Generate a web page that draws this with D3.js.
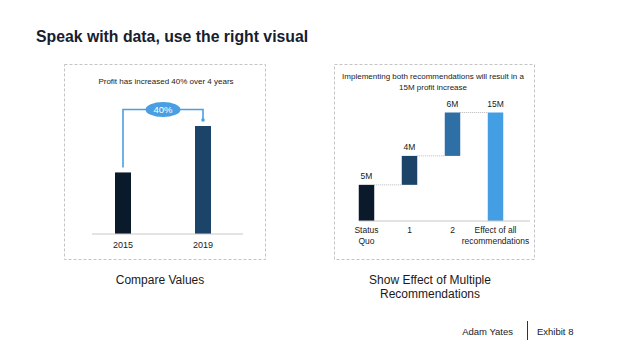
<!DOCTYPE html>
<html><head><meta charset="utf-8">
<script src="https://cdn.jsdelivr.net/npm/d3@7"></script>
<style>body{margin:0;background:#fff}svg{display:block;font-family:"Liberation Sans",Arial,sans-serif}</style>
</head><body>
<svg id="c" width="638" height="359"></svg>
<script>
// Left chart data
const yearCats = ["2015", "2019"];
const profitValues = [5.7, 10];
const growthLabel = "40%";
// Right chart (waterfall) data
const wfCats = [["Status", "Quo"], ["1"], ["2"], ["Effect of all", "recommendations"]];
const wfValues = [5, 4, 6, 15];
const wfLabels = ["5M", "4M", "6M", "15M"];
const wfIsTotal = [false, false, false, true];

const svg = d3.select("#c");
const ink = "#1a1a1a";

svg.append("text").attr("x", 36).attr("y", 42).attr("font-size", 15.8).attr("font-weight", "bold")
  .attr("fill", "#16202e").text("Speak with data, use the right visual");

// dashed boxes
[[64, 64, 201, 195], [334, 64, 200, 195]].forEach(([x, y, w, h]) => {
  svg.append("rect").attr("x", x + 0.5).attr("y", y + 0.5).attr("width", w).attr("height", h)
    .attr("fill", "none").attr("stroke", "#c4c4c4").attr("stroke-dasharray", "3,2");
});

// ---- Left chart
const xL = d3.scaleBand().domain(yearCats).range([83, 243]).paddingInner(0.8).paddingOuter(0.4);
const yL = d3.scaleLinear().domain([0, 10]).range([234, 126]);
const leftColors = ["#0b1a2a", "#1b4468"];
svg.append("text").attr("x", 166).attr("y", 84).attr("text-anchor", "middle").attr("font-size", 8)
  .attr("fill", ink).text("Profit has increased 40% over 4 years");
svg.selectAll(".lbar").data(profitValues).join("rect")
  .attr("x", (d, i) => xL(yearCats[i])).attr("width", xL.bandwidth())
  .attr("y", d => yL(d)).attr("height", d => yL(0) - yL(d)).attr("fill", (d, i) => leftColors[i]);
svg.append("line").attr("x1", 92).attr("x2", 243).attr("y1", 234).attr("y2", 234).attr("stroke", "#c8c8c8");
const axL = svg.append("g").attr("transform", "translate(0,234)")
  .call(d3.axisBottom(xL).tickSize(0).tickPadding(8));
axL.select(".domain").remove();
axL.selectAll("text").attr("font-size", 9).attr("fill", ink).attr("font-family", "Liberation Sans, Arial, sans-serif");

// connector
const c0 = xL(yearCats[0]) + xL.bandwidth() / 2, c1 = xL(yearCats[1]) + xL.bandwidth() / 2;
const topY = 109.5;
const blue = "#4a9fe2";
svg.append("path").attr("fill", "none").attr("stroke", blue).attr("stroke-width", 1.6)
  .attr("d", `M${c0},${yL(profitValues[0]) - 5}V${topY}H${c1}V${yL(profitValues[1]) - 6}`);
svg.append("circle").attr("cx", c1).attr("cy", yL(profitValues[1]) - 6).attr("r", 1.8).attr("fill", blue);
const mx = (c0 + c1) / 2;
svg.append("ellipse").attr("cx", mx).attr("cy", topY).attr("rx", 17.5).attr("ry", 7.5).attr("fill", blue);
svg.append("text").attr("x", mx).attr("y", topY + 3.5).attr("text-anchor", "middle").attr("font-size", 9.5)
  .attr("fill", "#fff").text(growthLabel);

// ---- Right chart (waterfall)
const keys = wfCats.map((d, i) => "c" + i);
const xR = d3.scaleBand().domain(keys).range([345, 517]).paddingInner(0.64).paddingOuter(0.32);
const yR = d3.scaleLinear().domain([0, 15]).range([221, 112.5]);
const rightColors = ["#0b1a2a", "#1b4468", "#2e6fa6", "#449ee3"];
let run = 0;
const wf = wfValues.map((v, i) => {
  let start, end;
  if (wfIsTotal[i]) { start = 0; end = v; } else { start = run; end = run + v; run = end; }
  return { key: keys[i], start, end, v, label: wfLabels[i] };
});
svg.append("text").attr("x", 433).attr("y", 79).attr("text-anchor", "middle").attr("font-size", 8)
  .attr("fill", ink).text("Implementing both recommendations will result in a");
svg.append("text").attr("x", 433).attr("y", 90).attr("text-anchor", "middle").attr("font-size", 8)
  .attr("fill", ink).text("15M profit increase");
// dotted connectors
wf.slice(0, -1).forEach((d, i) => {
  const n = wf[i + 1];
  svg.append("line").attr("x1", xR(d.key) + xR.bandwidth()).attr("x2", xR(n.key))
    .attr("y1", yR(d.end)).attr("y2", yR(d.end)).attr("stroke", "#b8b8b8").attr("stroke-dasharray", "1,1");
});
svg.selectAll(".rbar").data(wf).join("rect")
  .attr("x", d => xR(d.key)).attr("width", xR.bandwidth())
  .attr("y", d => yR(d.end)).attr("height", d => yR(d.start) - yR(d.end))
  .attr("fill", (d, i) => rightColors[i]);
svg.selectAll(".rlab").data(wf).join("text")
  .attr("x", d => xR(d.key) + xR.bandwidth() / 2).attr("y", d => yR(d.end) - 6)
  .attr("text-anchor", "middle").attr("font-size", 8.5).attr("fill", ink).text(d => d.label);
svg.append("line").attr("x1", 359).attr("x2", 530).attr("y1", 221).attr("y2", 221).attr("stroke", "#c8c8c8");
const axR = svg.append("g").attr("transform", "translate(0,221)")
  .call(d3.axisBottom(xR).tickSize(0).tickPadding(0).tickFormat(() => ""));
axR.select(".domain").remove();
axR.selectAll(".tick").each(function(k, i) {
  const t = d3.select(this).append("text").attr("text-anchor", "middle").attr("font-size", 8.5)
    .attr("fill", ink);
  wfCats[i].forEach((s, j) => t.append("tspan").attr("x", 0).attr("y", 12 + j * 10.5).text(s));
});

// captions
svg.append("text").attr("x", 160).attr("y", 284).attr("text-anchor", "middle").attr("font-size", 12)
  .attr("fill", ink).text("Compare Values");
svg.append("text").attr("x", 430).attr("y", 284).attr("text-anchor", "middle").attr("font-size", 12)
  .attr("fill", ink).text("Show Effect of Multiple");
svg.append("text").attr("x", 430).attr("y", 298).attr("text-anchor", "middle").attr("font-size", 12)
  .attr("fill", ink).text("Recommendations");

// footer
svg.append("text").attr("x", 513).attr("y", 335).attr("text-anchor", "end").attr("font-size", 9.5)
  .attr("fill", ink).text("Adam Yates");
svg.append("line").attr("x1", 527.5).attr("x2", 527.5).attr("y1", 321).attr("y2", 340).attr("stroke", "#333");
svg.append("text").attr("x", 537).attr("y", 335).attr("font-size", 9.5).attr("fill", ink).text("Exhibit 8");
</script>
</body></html>
